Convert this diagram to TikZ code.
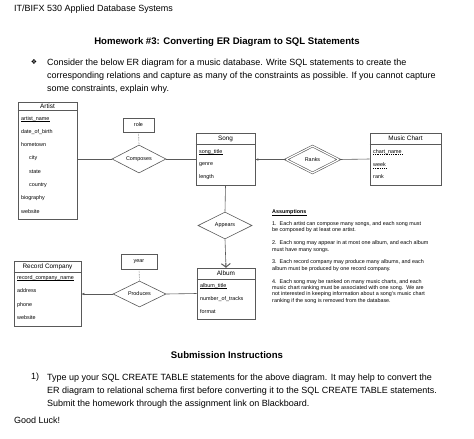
\documentclass[tikz,border=0pt]{standalone}
\usepackage{fontspec}
\setmainfont{Liberation Sans}
\newfontfamily\symfont{DejaVu Sans}
\usepackage{tikz}
\usetikzlibrary{scopes,shapes.geometric,arrows.meta,positioning}
\definecolor{erline}{gray}{0.35}
\tikzset{
  myent/.style={draw=erline,line width=0.6pt,rectangle,inner sep=0pt},
  myrel/.style={draw=erline,line width=0.6pt,diamond,aspect=2,inner sep=0pt,
    font=\fontsize{5.4}{6}\selectfont},
  myattr/.style={draw=erline,line width=0.6pt,rectangle,inner sep=0pt,
    font=\fontsize{5.4}{6}\selectfont},
  mytitle/.style={inner sep=0pt,font=\fontsize{6.4}{7}\selectfont},
  myfield/.style={anchor=west,inner sep=0pt,font=\fontsize{5.4}{6}\selectfont},
  hdr/.style={draw=erline,line width=0.6pt},
  link/.style={draw=erline,line width=0.6pt},
  totlink/.style={link,double,double distance=1.3pt},
  tolink/.style={link,-{Latex[length=3pt,width=2.6pt]}},
  attlink/.style={link,densely dotted},
  fullkey/.style={draw=black,line width=0.35pt},
  partkey/.style={draw=black,line width=0.35pt,dash pattern=on 1pt off 0.8pt},
  bodytxt/.style={anchor=west,inner sep=0pt,font=\fontsize{9}{13}\selectfont},
  bodypar/.style={anchor=north west,inner sep=0pt,align=left,font=\fontsize{9}{13}\selectfont},
  headtxt/.style={inner sep=0pt,font=\bfseries\fontsize{9.6}{11}\selectfont},
  asmtxt/.style={anchor=north west,inner sep=0pt,align=left,font=\fontsize{5.4}{6.3}\selectfont}
}

\begin{document}
\begin{tikzpicture}[x=1pt,y=-1pt]
  \useasboundingbox (0,0) rectangle (474,439);
  \node[bodytxt] (course) at (14,9) {IT/BIFX 530 Applied Database Systems};
  \node[headtxt] (hwtitle) at (227,42) {Homework \#3: Converting ER Diagram to SQL Statements};
  \node[inner sep=0pt,font=\symfont\fontsize{7}{8}\selectfont] (bullet) at (34,62) {❖};
  \node[bodypar] (intro) at (47,58.5)
    {Consider the below ER diagram for a music database. Write SQL statements to create the\\
     corresponding relations and capture as many of the constraints as possible. If you cannot capture\\
     some constraints, explain why.};

  \node[myent,minimum width=59pt,minimum height=117pt] (artist) at (47.5,160.5) {};
  \draw[hdr] ([yshift=-9pt]artist.north west) -- ([yshift=-9pt]artist.north east);
  \node[mytitle] (artist-t) at ([yshift=-4.7pt]artist.north) {Artist};
  \foreach \txt/\xx/\yy [count=\i] in {artist\_name/21/119, date\_of\_birth/21/132,
      hometown/21/145, city/29/158, state/29/172, country/29/185, biography/21/198, website/21/212}
    \node[myfield] (artist-\i) at (\xx,\yy) {\txt};

  \node[myent,minimum width=59pt,minimum height=52pt] (song) at (225.5,159) {};
  \draw[hdr] ([yshift=-12pt]song.north west) -- ([yshift=-12pt]song.north east);
  \node[mytitle] (song-t) at ([yshift=-6pt]song.north) {Song};
  \foreach \txt/\yy [count=\i] in {song\_title/152, genre/165, length/177}
    \node[myfield] (song-\i) at (199,\yy) {\txt};

  \node[myent,minimum width=71pt,minimum height=52pt] (chart) at (405.5,159) {};
  \draw[hdr] ([yshift=-12pt]chart.north west) -- ([yshift=-12pt]chart.north east);
  \node[mytitle] (chart-t) at ([yshift=-6pt]chart.north) {Music Chart};
  \foreach \txt/\yy [count=\i] in {chart\_name/152, week/165, rank/177}
    \node[myfield] (chart-\i) at (373,\yy) {\txt};

  \node[myent,minimum width=58pt,minimum height=51pt] (album) at (226,293.5) {};
  \draw[hdr] ([yshift=-12pt]album.north west) -- ([yshift=-12pt]album.north east);
  \node[mytitle] (album-t) at ([yshift=-6pt]album.north) {Album};
  \foreach \txt/\yy [count=\i] in {album\_title/286, number\_of\_tracks/299, format/312}
    \node[myfield] (album-\i) at (200,\yy) {\txt};

  \node[myent,minimum width=67pt,minimum height=65pt] (company) at (47.5,293.5) {};
  \draw[hdr] ([yshift=-12pt]company.north west) -- ([yshift=-12pt]company.north east);
  \node[mytitle] (company-t) at ([yshift=-6pt]company.north) {Record Company};
  \foreach \txt/\yy [count=\i] in {record\_company\_name/278, address/291, phone/305, website/318}
    \node[myfield] (company-\i) at (17,\yy) {\txt};

  \foreach \k in {artist-1,song-1,album-1,company-1}
    \draw[fullkey] ([yshift=-0.9pt]\k.base west) -- ([yshift=-0.9pt]\k.base east);
  \foreach \k in {chart-1,chart-2}
    \draw[partkey] ([yshift=-0.9pt]\k.base west) -- ([yshift=-0.9pt]\k.base east);

  \node[myrel,minimum width=54pt,minimum height=28pt] (composes) at (139,159) {Composes};
  \node[myrel,double,double distance=1.2pt,minimum width=53pt,minimum height=27pt] (ranks) at (312.5,159.5) {Ranks};
  \node[myrel,minimum width=54pt,minimum height=27pt] (appears) at (225,225.5) {Appears};
  \node[myrel,minimum width=53pt,minimum height=26pt] (produces) at (139.5,294) {Produces};
  \node[myattr,minimum width=31pt,minimum height=14pt] (role) at (138.5,125) {role};
  \node[myattr,minimum width=36pt,minimum height=15pt] (year) at (139,261.5) {year};

  {[link]
    \draw (composes.west) -- (composes.west -| artist.east);
    \draw (song.south) -- (appears.north);
  }
  {[totlink]
    \draw (composes.east) -- (song.west);
    \draw (ranks.east) -- (chart.west);
    \draw (appears.south) -- (album.north);
    \draw (produces.east) -- (album.west);
  }
  {[tolink]
    \draw (ranks.west) -- (song.east |- ranks.west);
    \draw (produces.west) -- (company.east |- produces.west);
  }
  {[attlink]
    \draw (role.south) -- (composes.north);
    \draw (year.south) -- (produces.north);
  }
  \path (appears.south) -- (album.north) coordinate[pos=0.84] (apx);
  \draw[link,line width=1pt,-{Straight Barb[length=3.5pt,width=9pt]}] (apx) -- (album.north);

  \node[asmtxt] (asm) at (272,209.5)
    {\textbf{Assumptions}\\[5.6pt]
     1.\ \ Each artist can compose many songs, and each song must\\
     be composed by at least one artist.\\[6.6pt]
     2.\ \ Each song may appear in at most one album, and each album\\
     must have many songs.\\[6.6pt]
     3.\ \ Each record company may produce many albums, and each\\
     album must be produced by one record company.\\[6.6pt]
     4.\ \ Each song may be ranked on many music charts, and each\\
     music chart ranking must be associated with one song.\ \ We are\\
     not interested in keeping information about a song's music chart\\
     ranking if the song is removed from the database.};
  \draw[fullkey] (asm.north west) ++(0,5.3) -- ++(34.5,0);

  \node[headtxt] (subtitle) at (227,355) {Submission Instructions};
  \node[bodytxt] (stepno) at (31,377) {1)};
  \node[bodypar] (steps) at (47,373.5)
    {Type up your SQL CREATE TABLE statements for the above diagram. It may help to convert the\\
     ER diagram to relational schema first before converting it to the SQL CREATE TABLE statements.\\
     Submit the homework through the assignment link on Blackboard.};
  \node[bodytxt] (luck) at (14,420) {Good Luck!};
\end{tikzpicture}
\end{document}
